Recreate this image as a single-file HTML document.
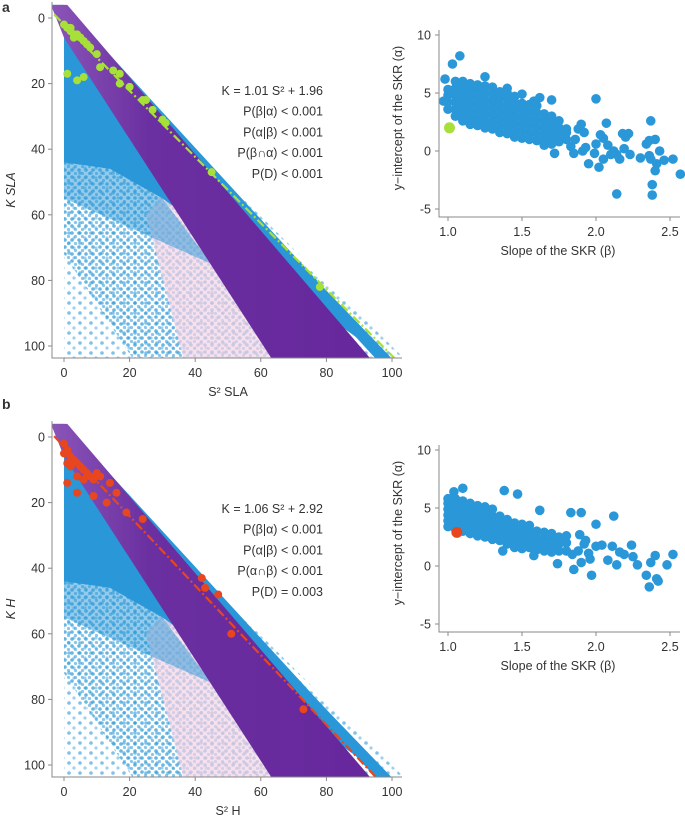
<!DOCTYPE html>
<html><head><meta charset="utf-8"><style>
html,body{margin:0;padding:0;background:#fff;}
svg{display:block;font-family:"Liberation Sans",sans-serif;}
text{fill:#333;}
</style></head><body>
<svg id="fig" width="685" height="822" viewBox="0 0 685 822">
<defs>
<pattern id="dots" width="7" height="7" patternUnits="userSpaceOnUse">
<circle cx="2" cy="2" r="1.8" fill="#2a97d8" opacity="0.7"/><circle cx="5.5" cy="5.5" r="1.6" fill="#2a97d8" opacity="0.55"/></pattern>
<pattern id="dots2" width="11" height="10" patternUnits="userSpaceOnUse">
<circle cx="3" cy="3" r="1.8" fill="#2a97d8" opacity="0.6"/><circle cx="8" cy="8" r="1.6" fill="#2a97d8" opacity="0.45"/></pattern>
<linearGradient id="purp" x1="0" y1="0" x2="1" y2="0"><stop offset="0" stop-color="#8a55b8"/><stop offset="0.3" stop-color="#6a2fa0"/><stop offset="1" stop-color="#66279c"/></linearGradient>
<clipPath id="clipA"><rect x="52" y="2" width="350" height="356"/></clipPath>
<clipPath id="clipB"><rect x="52" y="421" width="350" height="356"/></clipPath>
</defs>
<text x="2" y="12" font-weight="bold" font-size="14" fill="#000">a</text>
<text x="2" y="409" font-weight="bold" font-size="14" fill="#000">b</text>
<g id="tri-a"></g>
<g id="tri-b"></g>
<g id="sc-a"></g>
<g id="sc-b"></g>
</svg>
<script>
// ---- data ----
const obsA_S2 = [0,1,2,3,4,5,6,7,8,1,4,6,10,11,15,17,17,20,24,25,27,30,31,45,78,2,3,5];
const obsA_K  = [2,3,4,5,5,6,7,8,9,17,19,18,11,15,16,17,20,21,25,25,28,31,32,47,82,3,6,6];
const obsB_S2 = [0,1,2,3,4,5,6,7,8,9,10,11,1,4,4,9,13,14,16,19,24,42,43,47,51,73,2,6,0,1];
const obsB_K  = [2,4,6,7,8,9,10,11,12,13,11,12,14,17,12,18,20,14,17,23,25,43,46,48,60,83,9,13,5,8];
const fitA = [1.01, 1.96];
const fitB = [1.06, 2.92];
const triTicks = [0,20,40,60,80,100];
const statsA = ["K = 1.01 S² + 1.96","P(β|α) < 0.001","P(α|β) < 0.001","P(β∩α) < 0.001","P(D) < 0.001"];
const statsB = ["K = 1.06 S² + 2.92","P(β|α) < 0.001","P(α|β) < 0.001","P(α∩β) < 0.001","P(D) = 0.003"];
const skrA_beta = [1.00,1.00,1.00,1.00,1.05,1.05,1.05,1.05,1.05,1.05,1.10,1.10,1.10,1.10,1.10,1.10,1.10,1.15,1.15,1.15,1.15,1.15,1.15,1.15,1.20,1.20,1.20,1.20,1.20,1.20,1.20,1.25,1.25,1.25,1.25,1.25,1.25,1.25,1.30,1.30,1.30,1.30,1.30,1.30,1.30,1.35,1.35,1.35,1.35,1.35,1.35,1.35,1.40,1.40,1.40,1.40,1.40,1.40,1.40,1.45,1.45,1.45,1.45,1.45,1.45,1.45,1.50,1.50,1.50,1.50,1.50,1.50,1.55,1.55,1.55,1.55,1.55,1.55,1.60,1.60,1.60,1.60,1.60,1.60,1.65,1.65,1.65,1.65,1.65,1.70,1.70,1.70,1.70,1.70,1.75,1.75,1.75,1.75,1.80,1.80,
 1.08,1.03,0.98,2.00,2.07,2.37,2.14,2.38,2.38,2.57,2.40,2.41,2.46,2.52,2.30,2.36,2.37,2.43,2.40,2.34,2.36,2.18,2.22,2.20,2.19,2.23,2.10,2.14,2.16,2.05,2.02,1.99,2.00,2.03,2.05,2.08,2.12,1.95,1.91,1.93,1.90,1.88,1.92,1.86,1.83,1.85,1.80,1.72,1.65,1.70,1.62,1.58,1.50,1.25,1.40,0.97];
const skrA_alpha = [3.6,4.2,4.8,5.3,3.0,3.6,4.2,4.8,5.4,6.0,2.6,3.2,3.8,4.4,5.0,5.6,6.0,2.3,2.9,3.5,4.1,4.7,5.3,5.8,2.2,2.8,3.4,4.0,4.6,5.2,5.7,2.0,2.6,3.2,3.8,4.4,5.0,5.6,1.9,2.5,3.1,3.7,4.3,4.9,5.5,1.6,2.2,2.8,3.4,4.0,4.6,5.1,1.5,2.1,2.7,3.3,3.9,4.5,5.0,1.2,1.8,2.4,3.0,3.6,4.2,4.7,1.1,1.7,2.3,2.9,3.5,4.1,1.0,1.6,2.2,2.8,3.4,4.0,0.9,1.5,2.1,2.7,3.3,3.9,0.8,1.4,2.0,2.6,3.2,0.6,1.2,1.8,2.4,3.0,0.8,1.4,2.0,2.6,1.0,1.6,
 8.2,7.5,6.2,4.5,2.4,2.6,-3.7,-2.9,-3.8,-2.0,-1.7,-1.1,-0.8,-0.7,-0.6,-0.4,-0.7,0.0,1.0,0.6,0.9,1.5,1.5,1.2,0.2,-0.3,-0.3,-0.3,-0.7,-0.7,-1.4,-0.2,0.6,1.4,1.1,0.5,0.0,-1.1,0.0,0.3,2.3,1.9,1.6,1.0,0.4,-0.2,1.9,-0.2,0.5,4.4,4.6,4.3,4.9,6.4,5.4,4.3];
const skrB_beta = [1.00,1.00,1.00,1.00,1.00,1.00,1.05,1.05,1.05,1.05,1.05,1.05,1.10,1.10,1.10,1.10,1.10,1.10,1.15,1.15,1.15,1.15,1.15,1.15,1.20,1.20,1.20,1.20,1.20,1.20,1.25,1.25,1.25,1.25,1.25,1.25,1.30,1.30,1.30,1.30,1.30,1.30,1.35,1.35,1.35,1.35,1.35,1.40,1.40,1.40,1.40,1.40,1.45,1.45,1.45,1.45,1.45,1.50,1.50,1.50,1.50,1.50,1.55,1.55,1.55,1.55,1.55,1.60,1.60,1.60,1.60,1.65,1.65,1.65,1.65,1.70,1.70,1.70,1.70,1.75,1.75,1.75,1.80,1.80,1.80,
 1.38,1.47,1.10,1.04,1.83,1.90,2.12,2.00,1.37,1.58,1.74,1.85,1.97,1.90,1.96,2.08,2.14,2.00,2.04,2.11,2.16,2.19,2.24,2.25,2.28,2.34,2.36,2.37,2.40,2.42,2.41,2.48,2.52,1.88,1.92,1.95,1.93,1.89,1.84,1.62];
const skrB_alpha = [3.4,3.9,4.4,4.9,5.4,5.8,3.2,3.7,4.2,4.7,5.2,5.8,3.0,3.5,4.0,4.5,5.0,5.6,2.8,3.3,3.8,4.3,4.8,5.4,2.6,3.1,3.6,4.1,4.6,5.2,2.5,3.0,3.5,4.0,4.5,5.1,2.3,2.8,3.3,3.8,4.3,4.9,2.2,2.7,3.2,3.7,4.3,1.9,2.4,2.9,3.4,4.0,1.6,2.1,2.6,3.1,3.7,1.5,2.0,2.5,3.0,3.6,1.6,2.1,2.6,3.1,3.5,1.4,1.9,2.4,3.0,1.3,1.8,2.3,2.9,1.2,1.7,2.2,2.8,1.3,1.9,2.5,1.3,2.0,2.6,
 6.5,6.2,6.7,6.4,4.6,4.6,4.3,3.6,1.3,0.9,0.2,-0.3,-0.8,0.3,0.6,0.5,0.1,1.7,1.8,1.7,1.2,1.0,1.8,0.8,0.1,-0.8,-1.8,0.3,0.9,-1.3,-1.1,0.1,1.0,1.3,1.9,1.1,2.2,2.7,1.0,4.8];
const bestA = [1.01, 2.0];
const bestB = [1.06, 2.9];
const skrXTicks = [1.0,1.5,2.0,2.5];
const skrYTicks = [10,5,0,-5];

const NS = "http://www.w3.org/2000/svg";
function mk(parent, tag, attrs, txt){const e=document.createElementNS(NS,tag);for(const k in attrs)e.setAttribute(k,attrs[k]);if(txt!==undefined)e.textContent=txt;parent.appendChild(e);return e;}

function triPanel(gid, top, clip, S2, K, fit, col, stats, ylab, xlab, statY){
  const g=document.getElementById(gid);
  const sx=v=>64+3.28*v, sy=v=>top+3.28*v;
  const bottom=top+340;
  const c=mk(g,'g',{'clip-path':'url(#'+clip+')'});
  
  
  const pts=a=>a.map(p=>sx(p[0])+','+sy(p[1])).join(' ');
  mk(c,'polygon',{points:pts([[0,1],[0,110],[110,110]]),fill:'url(#dots2)'});
  mk(c,'polygon',{points:pts([[0,40],[0,72],[25,110],[70,110],[30,50]]),fill:'url(#dots)'});
  mk(c,'polygon',{points:pts([[25,60],[38,110],[70,110],[33,50]]),fill:'#f5d3e4',opacity:'0.7'});
  // solid blue
  mk(c,'polygon',{points:pts([[0,0],[0,44],[14,46],[30,55],[104,108],[0,0]]),fill:'#2a97d8'});
  mk(c,'polygon',{points:pts([[0,44],[14,46],[30,55],[45,75],[0,55]]),fill:'#2a97d8',opacity:'0.5'});
  mk(c,'polygon',{points:pts([[-4,-4],[0,-4],[101,106],[97,106]]),fill:'#2a97d8'});
  mk(c,'polygon',{points:pts([[-4,-4],[1,-4],[97,108],[66,108],[0,6]]),fill:'url(#purp)'});
  const fl=mk(c,'line',{x1:sx(-3),y1:sy(fit[0]*-3+fit[1]),x2:sx(110),y2:sy(fit[0]*110+fit[1]),stroke:col,'stroke-width':2.2,'stroke-dasharray':'9,3,2,3'});
  
  
  for(let i=0;i<S2.length;i++){
    const p=mk(c,'circle',{cx:sx(S2[i]),cy:sy(K[i]),r:4,fill:col});
    
    
  }
  const ax=mk(g,'path',{d:`M52,${top-16} V${bottom} H402`,stroke:'#888','stroke-width':1,fill:'none'});
  
  
  triTicks.forEach(t=>{
    mk(g,'line',{x1:sx(t),x2:sx(t),y1:bottom,y2:bottom+4,stroke:'#888'});
    const xl=mk(g,'text',{x:sx(t),y:bottom+19,'text-anchor':'middle','font-size':12.5},String(t));
    
    
    mk(g,'line',{x1:48,x2:52,y1:sy(t),y2:sy(t),stroke:'#888'});
    const yl=mk(g,'text',{x:45,y:sy(t)+4.5,'text-anchor':'end','font-size':12.5},String(t));
    
    
  });
  const yt=mk(g,'text',{x:0,y:0,transform:`translate(15,${top+172}) rotate(-90)`,'text-anchor':'middle','font-size':12.5,'font-style':'italic'},ylab);
  
  
  const xt=mk(g,'text',{x:228,y:bottom+38,'text-anchor':'middle','font-size':12.5},xlab);
  
  
  stats.forEach((s,i)=>{
    const t=mk(g,'text',{x:323,y:statY+i*20.7,'text-anchor':'end','font-size':12.5},s);
    
    
  });
}
triPanel('tri-a',18,'clipA',obsA_S2,obsA_K,fitA,'#a8e03a',statsA,'K SLA','S² SLA',95);
triPanel('tri-b',437,'clipB',obsB_S2,obsB_K,fitB,'#e8461e',statsB,'K H','S² H',513);

function skrPanel(gid, top, B, A, best, col){
  const g=document.getElementById(gid);
  const y0=top+115;
  const sx=v=>448+(v-1)*148, sy=v=>y0-v*11.6;
  const bottom=top+181;
  for(let i=0;i<B.length;i++){
    const p=mk(g,'circle',{cx:sx(B[i]),cy:sy(A[i]),r:4.8,fill:'#2a97d8'});
    
    
  }
  const bp=mk(g,'circle',{cx:sx(best[0]),cy:sy(best[1]),r:5.5,fill:col});
  
  
  const ax=mk(g,'path',{d:`M439,${top-6} V${bottom} H680`,stroke:'#888',fill:'none'});
  
  
  skrXTicks.forEach(t=>{
    mk(g,'line',{x1:sx(t),x2:sx(t),y1:bottom,y2:bottom+4,stroke:'#888'});
    const l=mk(g,'text',{x:sx(t),y:bottom+19,'text-anchor':'middle','font-size':12.5},t.toFixed(1));
    
    
  });
  skrYTicks.forEach(t=>{
    mk(g,'line',{x1:435,x2:439,y1:sy(t),y2:sy(t),stroke:'#888'});
    const l=mk(g,'text',{x:431,y:sy(t)+4.5,'text-anchor':'end','font-size':12.5},String(t));
    
    
  });
  const xt=mk(g,'text',{x:558,y:bottom+38,'text-anchor':'middle','font-size':12.5},'Slope of the SKR (β)');
  
  
  const yt=mk(g,'text',{x:0,y:0,transform:`translate(402,${y0-33}) rotate(-90)`,'text-anchor':'middle','font-size':12.5},'y−intercept of the SKR (α)');
  
  
}
skrPanel('sc-a',36,skrA_beta,skrA_alpha,bestA,'#a8e03a');
skrPanel('sc-b',451,skrB_beta,skrB_alpha,bestB,'#e8461e');
</script>
</body></html>
